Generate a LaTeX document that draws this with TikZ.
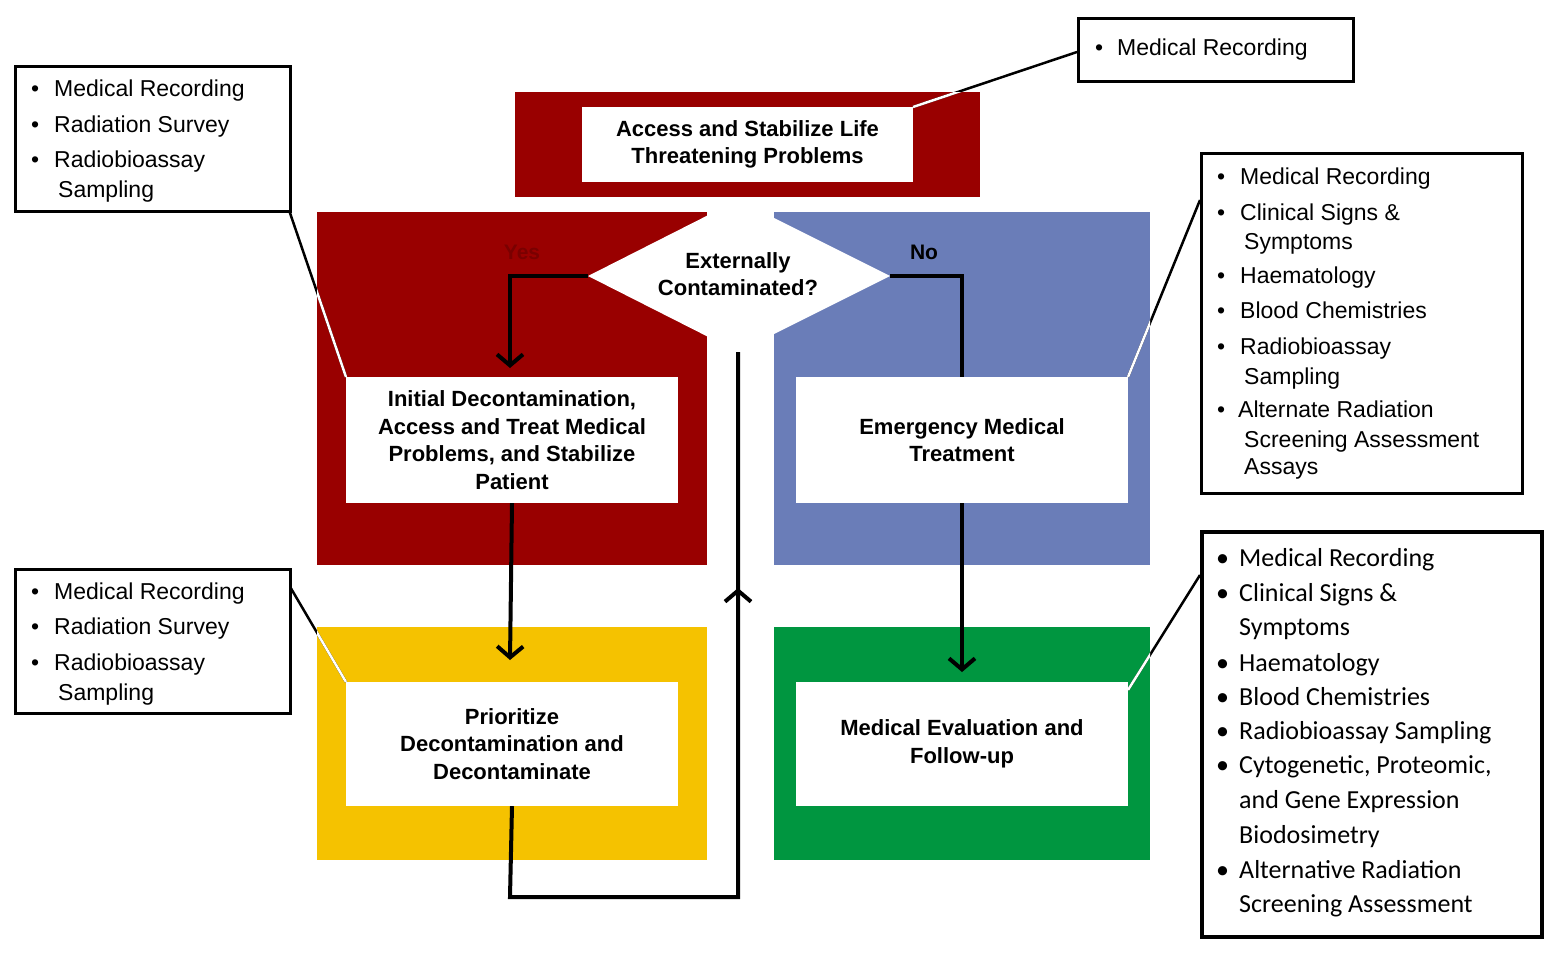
\documentclass[tikz,border=0pt]{standalone}
\usepackage{fontspec}
\setmainfont{Liberation Sans}
\newfontfamily\carl{Carlito}
\usetikzlibrary{shapes.geometric,arrows.meta}
\definecolor{dred}{HTML}{990000}
\definecolor{blu}{HTML}{6A7DB8}
\definecolor{yel}{HTML}{F5C200}
\definecolor{grn}{HTML}{009640}
\begin{document}
\begin{tikzpicture}[x=1pt,y=-1pt,
 inner/.style={fill=white,draw=none,font=\fontsize{22}{27.5}\selectfont\bfseries,align=center},
 call/.style={draw=black,line width=2.5pt,fill=white,anchor=north west,inner sep=0pt},
 tx/.style={anchor=base west,inner sep=0pt,font=\fontsize{23}{27}\selectfont},
 tc/.style={anchor=base west,inner sep=0pt,font=\carl\fontsize{26}{30}\selectfont},
 arr/.style={line width=4pt,-{Straight Barb[length=11pt,width=26pt]}},
 ln/.style={line width=4pt}]
\useasboundingbox (0,0) rectangle (1550,956);
\fill[white] (0,0) rectangle (1550,956);
% colored panels
\fill[dred] (515,92) rectangle (980,197);
\fill[dred] (317,212) rectangle (707,565);
\fill[blu] (774,212) rectangle (1150,565);
\fill[yel] (317,627) rectangle (707,860);
\fill[grn] (774,627) rectangle (1150,860);
% connector lines to callouts
\draw[line width=2.5pt] (1077,52) -- (913,107);
\draw[line width=2.5pt] (289,210) -- (346,377);
\draw[line width=2.5pt] (1200,200) -- (1128,377);
\draw[line width=2.5pt] (289,585) -- (346,682);
\draw[line width=2.5pt] (1200,575) -- (1128,690);
\begin{scope}
\clip (515,92) rectangle (980,197) (317,212) rectangle (707,565) (774,212) rectangle (1150,565) (317,627) rectangle (707,860) (774,627) rectangle (1150,860);
\draw[white,line width=2.5pt] (1077,52) -- (913,107);
\draw[white,line width=2.5pt] (289,210) -- (346,377);
\draw[white,line width=2.5pt] (1200,200) -- (1128,377);
\draw[white,line width=2.5pt] (289,585) -- (346,682);
\draw[white,line width=2.5pt] (1200,575) -- (1128,690);
\end{scope}
% inner boxes
\node[inner,minimum width=331,minimum height=75] (top) at (747.5,144.5) {Access and Stabilize Life\\Threatening Problems};
\node[inner,minimum width=332,minimum height=126] (init) at (512,440) {Initial Decontamination,\\Access and Treat Medical\\Problems, and Stabilize\\Patient};
\node[inner,minimum width=332,minimum height=126] (emt) at (962,440) {Emergency Medical\\Treatment};
\node[inner,minimum width=332,minimum height=124] (prio) at (512,744) {Prioritize\\Decontamination and\\Decontaminate};
\node[inner,minimum width=332,minimum height=124] (eval) at (962,744) {Medical Evaluation and\\Follow-up};
\coordinate (dw) at (588,276); \coordinate (de) at (890,276);
\coordinate (dn) at (738,200); \coordinate (ds) at (738,352);
\fill[white] (dw) -- (dn) -- (de) -- (ds) -- cycle;
\node[font=\fontsize{22}{27}\selectfont\bfseries,align=center] (dia) at (738,274) {Externally\\Contaminated?};
\node[font=\fontsize{21}{24}\selectfont\bfseries,text=dred!80!black] (yes) at (522,252) {Yes};
\node[font=\fontsize{21}{24}\selectfont\bfseries] (no) at (924,252) {No};
% arrows
\coordinate (c1) at (510,276);
\coordinate (c2) at (962,276);
\draw[arr] (dw) -- (c1) -- (510,368);
\draw[ln] (de) -- (c2) -- (emt.north);
\draw[arr] (init.south) -- (510,660);
\draw[arr] (emt.south) -- (962,672);
\coordinate (b1) at (510,897); \coordinate (b2) at (738,897);
\draw[ln] (prio.south) -- (b1) -- (b2) -- (ds);
\draw[arr] (b2) -- (738,588);
% callouts
\node[call,minimum width=275,minimum height=63] (c0) at (1077,17) {};
\node[tx] at (1095,55) {\textbullet}; \node[tx] at (1117,55) {Medical Recording};
\node[call,minimum width=275,minimum height=145] (cl1) at (14,65) {};
\foreach \y/\t in {96/Medical Recording,132/Radiation Survey,167/Radiobioassay}{
 \node[tx] at (31,\y) {\textbullet}; \node[tx] at (54,\y) {\t};}
\node[tx] at (58,197) {Sampling};
\node[call,minimum width=275,minimum height=144] (cl2) at (14,568) {};
\foreach \y/\t in {599/Medical Recording,634/Radiation Survey,670/Radiobioassay}{
 \node[tx] at (31,\y) {\textbullet}; \node[tx] at (54,\y) {\t};}
\node[tx] at (58,700) {Sampling};
\node[call,minimum width=321,minimum height=340] (cr1) at (1200,152) {};
\foreach \y/\t in {184/Medical Recording,220/Clinical Signs \&,283/Haematology,318/Blood Chemistries,354/Radiobioassay}{
 \node[tx] at (1217,\y) {\textbullet}; \node[tx] at (1240,\y) {\t};}
\node[tx] at (1217,417) {\textbullet}; \node[tx] at (1238,417) {Alternate Radiation};
\foreach \y/\t in {249/Symptoms,384/Sampling,447/Screening Assessment,474/Assays}{
 \node[tx] at (1244,\y) {\t};}
\node[call,line width=3.5pt,minimum width=340,minimum height=405] (cr2) at (1200,530) {};
\foreach \y/\t in {566/Medical Recording,601/Clinical Signs \&,671/Haematology,705/Blood Chemistries,739/Radiobioassay Sampling,773/{Cytogenetic, Proteomic,},878/Alternative Radiation}{
 \node[tc] at (1216,\y) {\textbullet}; \node[tc] at (1239,\y) {\t};}
\foreach \y/\t in {635/Symptoms,808/and Gene Expression,843/Biodosimetry,912/Screening Assessment}{
 \node[tc] at (1239,\y) {\t};}
\end{tikzpicture}
\end{document}
